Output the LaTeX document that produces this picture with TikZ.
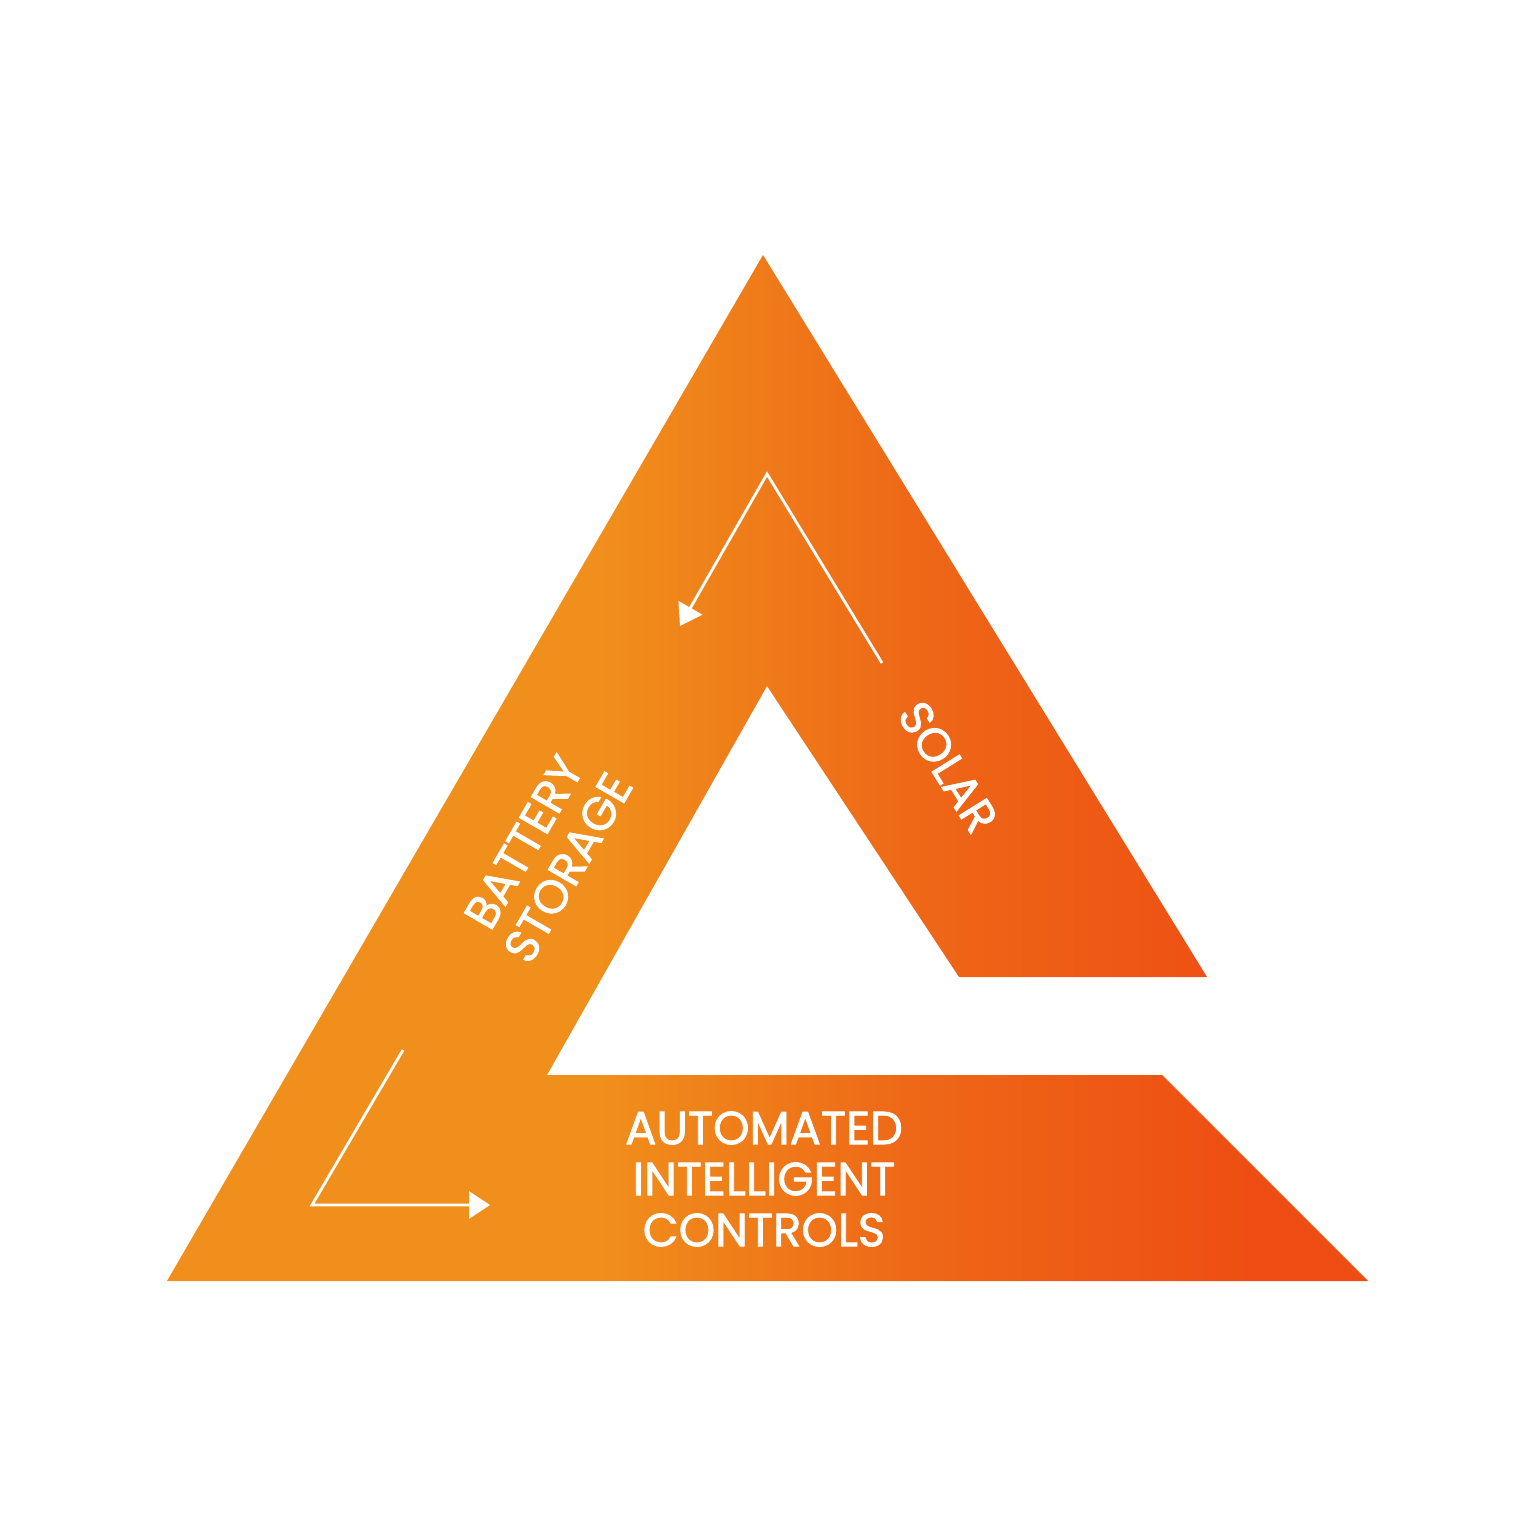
\documentclass[tikz,border=0pt]{standalone}
\usepackage{fontspec}
\setmainfont{Poppins}[FakeBold=1.6]
\usetikzlibrary{arrows.meta}
\definecolor{orA}{RGB}{240,143,27}
\definecolor{orB}{RGB}{238,104,23}
\definecolor{orC}{RGB}{238,78,19}
\pgfdeclarehorizontalshading{bandshade}{100bp}{
  color(0bp)=(orA); color(43bp)=(orA); color(56bp)=(orB); color(70bp)=(orC); color(100bp)=(orC)}
\tikzset{
  flowarrow/.style={draw=white, line width=2.8pt, line join=miter,
    -{Triangle[length=21pt,width=27pt]}},
  label/.style={text=white, inner sep=0pt, align=center,
    font=\fontsize{46.5}{51}\selectfont},
}
\begin{document}
\begin{tikzpicture}[x=1pt,y=-1pt]
\useasboundingbox (0,0) rectangle (1536,1536);
% band outline corners
\coordinate (p1) at (763,255);
\coordinate (p2) at (1207,977);
\coordinate (p3) at (959,977);
\coordinate (p4) at (767,686);
\coordinate (p5) at (547,1075);
\coordinate (p6) at (1162,1075);
\coordinate (p7) at (1368,1281);
\coordinate (p8) at (167,1281);
\begin{scope}
  \clip (p1) -- (p2) -- (p3) -- (p4) -- (p5) -- (p6) -- (p7) -- (p8) -- cycle;
  \shade[shading=bandshade] (167,250) rectangle (1368,1285);
\end{scope}
% arrows
\coordinate (a1s) at (882,663);
\coordinate (a1m) at (767,474);
\coordinate (a1e) at (680,626);
\coordinate (a2s) at (403,1050);
\coordinate (a2m) at (312,1205);
\coordinate (a2e) at (490,1205);
\draw[flowarrow] (a1s) -- (a1m) -- (a1e);
\draw[flowarrow] (a2s) -- (a2m) -- (a2e);
% labels
\node[label] (ctrl) at (764,1179) {AUTOMATED\\INTELLIGENT\\CONTROLS};
\node[label, rotate=-58] (solar) at (948,767) {SOLAR};
\node[label, rotate=60] (batt) at (546,855) {BATTERY\\STORAGE};
\end{tikzpicture}
\end{document}
